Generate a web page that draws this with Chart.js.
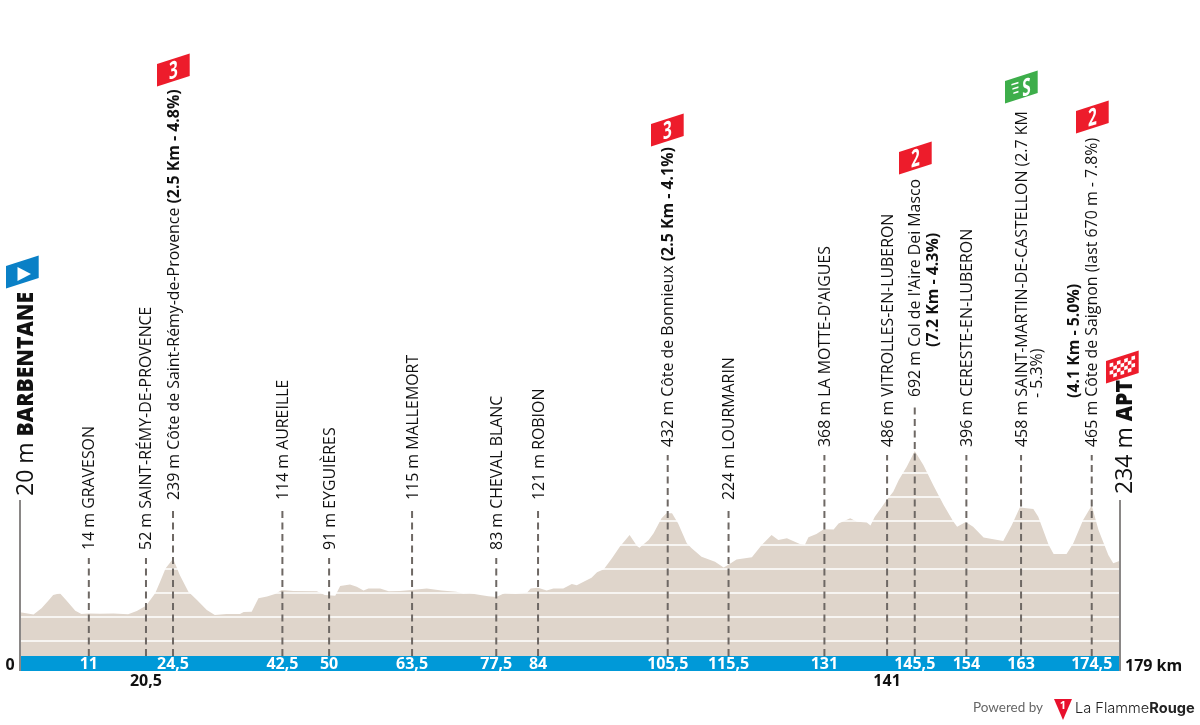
<!DOCTYPE html>
<html><head><meta charset="utf-8">
<style>html,body{margin:0;padding:0;background:#fff}canvas{display:block}</style>
<script src="https://cdn.jsdelivr.net/npm/chart.js@4/dist/chart.umd.min.js"></script>
</head><body><canvas id="c" width="1200" height="725"></canvas>
<script>
// Stage profile
const profileKm = [0,2.2,3.5,4.6,5.4,6.5,7.6,9,10,11.2,13,15.2,17.6,19,20.5,22,22.8,23.7,24.7,25,26,27.4,28.8,30.4,31.7,33.6,35.8,36.4,37.7,38.8,40.2,41.5,42.6,44.5,48.3,49.6,51.3,52.1,53.7,54.8,55.9,56.7,58.6,60,61.8,63.7,66.2,68.6,71,72.1,73.2,74.9,76.2,77.5,78.9,80.6,82.5,83.1,84.3,85.7,86.8,88.4,89.8,90.6,93,93.9,95,96.3,97.6,99.2,100.4,100.8,102.3,103.1,104.4,105.2,106.1,107.1,108.5,109.3,110.9,113.1,114.5,115.4,116.6,119.1,120.7,122.3,123.4,124.8,126.9,127.7,128.3,129.6,130.8,132.4,133.2,135.1,136.2,137.8,138.4,139.1,139.9,141.1,142.1,143,144.3,145.6,147,148.6,150.3,151.9,152.5,153.9,155.1,156.8,160,161.4,162.7,164.9,165.7,167.4,168.2,170.3,171.4,173,174.4,175.5,177.1,177.9,179];
const profileM = [20,10,36,68,92,99,68,26,12,15,14,15,11,25,47,99,147,203,235,237,175,105,71,29,8,12,12,21,22,78,85,96,112,108,107,92,89,129,135,126,110,119,119,107,108,113,119,110,105,97,99,92,86,83,100,96,101,119,122,110,119,119,137,132,164,186,199,244,293,342,296,289,321,349,411,432,432,390,307,286,251,230,206,220,240,249,300,342,321,328,304,300,332,346,366,365,390,411,397,394,381,418,446,490,522,571,626,692,633,550,467,397,376,396,376,331,317,383,456,450,418,300,262,262,307,404,465,362,258,224,234];
// Horizontal levels (m)
const gridLevels = [-100,0,100,200,300,400,500,600];
// Vertical waypoints
const markerKm   = [11.2,20.5,24.9,42.7,50.3,63.8,77.5,84.3,105.4,115.3,130.9,141.1,145.6,154,162.9,174.4];
const markerTop  = [246,246,454,454,246,454,246,454,675,454,675,675,883,675,675,675];
const kmLabels   = ["11","20,5","24,5","42,5","50","63,5","77,5","84","105,5","115,5","131","141","145,5","154","163","174,5"];
const waypointText = [
 [[["14 m GRAVESON",0]]],
 [[["52 m SAINT-RÉMY-DE-PROVENCE",0]]],
 [[["239 m Côte de Saint-Rémy-de-Provence ",0],["(2.5 Km - 4.8%)",1]]],
 [[["114 m AUREILLE",0]]],
 [[["91 m EYGUIÈRES",0]]],
 [[["115 m MALLEMORT",0]]],
 [[["83 m CHEVAL BLANC",0]]],
 [[["121 m ROBION",0]]],
 [[["432 m Côte de Bonnieux ",0],["(2.5 Km - 4.1%)",1]]],
 [[["224 m LOURMARIN",0]]],
 [[["368 m LA MOTTE-D'AIGUES",0]]],
 [[["486 m VITROLLES-EN-LUBERON",0]]],
 [[["692 m Col de l'Aire Dei Masco",0]],[["(7.2 Km - 4.3%)",1]]],
 [[["396 m CERESTE-EN-LUBERON",0]]],
 [[["458 m SAINT-MARTIN-DE-CASTELLON (2.7 KM",0]],[["- 5.3%)",0]]],
 [[["465 m Côte de Saignon (last 670 m - 7.8%)",0]],[["(4.1 Km - 5.0%)",1]]]
];
// Second-line placement: [dx from first line baseline, start y]
const secondLine = {12:[18,347],14:[15,398],15:[-18,398]};
const startName="BARBENTANE", startAlt="20 m", finishName="APT", finishAlt="234 m", totalKm="179 km";
const gates = [
 {kind:"start",x:6,y:266},{kind:"3",x:157,y:64},{kind:"3",x:651,y:124},{kind:"2",x:899,y:152},
 {kind:"S",x:1005,y:81},{kind:"2",x:1076,y:111},{kind:"finish",x:1106,y:361}
];
const BAND_TOP=-162.5, Y_MIN=-225, Y_MAX=2570.83, EDGE_TOP=487.5;
const F='"Open Sans"';
const LABEL_SIZE=15.9;

const overlay={id:'overlay',afterDraw(chart){
  const ctx=chart.ctx,xs=chart.scales.x,ys=chart.scales.y;
  const rot=(x,y,fn)=>{ctx.save();ctx.translate(x,y);ctx.rotate(-Math.PI/2);ctx.textAlign='left';ctx.textBaseline='alphabetic';fn();ctx.restore();};
  const segs=(line,size)=>{let p=0;line.forEach(([t,b])=>{ctx.font=(b?'700 ':'400 ')+size+'px '+F;ctx.fillStyle='#111';ctx.fillText(t,p,0);p+=ctx.measureText(t).width;});};
  markerKm.forEach((km,i)=>{
    const px=xs.getPixelForValue(km), top=ys.getPixelForValue(markerTop[i]);
    const base=px+5.5, sy=top-8;
    rot(base,sy,()=>segs(waypointText[i][0],LABEL_SIZE));
    if(waypointText[i][1]){const [dx,y2]=secondLine[i];rot(base+dx,y2,()=>segs(waypointText[i][1],LABEL_SIZE));}
    const low=(i===1||i===11);
    ctx.font='700 16px '+F;ctx.textAlign='center';ctx.textBaseline='middle';
    ctx.fillStyle=low?'#111':'#fff';
    ctx.fillText(kmLabels[i],px,low?681:664);
  });
  ctx.font='700 16px '+F;ctx.fillStyle='#111';ctx.textAlign='center';ctx.textBaseline='middle';
  ctx.fillText('0',10,665);
  ctx.textAlign='left';ctx.fillText(totalKm,1125,666);
  // start/finish titles
  const big=(x,y,alt,name)=>rot(x,y,()=>{ctx.fillStyle='#111';ctx.font='400 23px '+F;ctx.fillText(alt+' ',0,0);const w=ctx.measureText(alt+' ').width;ctx.font='800 23px '+F;ctx.translate(w,0);ctx.scale(0.92,1);ctx.fillText(name,0,0);});
  big(33,496,startAlt,startName);
  big(1132,494,finishAlt,finishName);
  // gates
  const W=32.7,H=22.5,R=10.5;
  gates.forEach(g=>{
    ctx.save();ctx.translate(g.x,g.y);
    ctx.beginPath();ctx.moveTo(0,0);ctx.lineTo(W,-R);ctx.lineTo(W,H-R);ctx.lineTo(0,H);ctx.closePath();
    ctx.fillStyle=g.kind==='start'?'#0A80C6':g.kind==='S'?'#3DAE4A':'#ED1C2B';ctx.fill();
    ctx.fillStyle='#fff';
    if(g.kind==='start'){ctx.beginPath();ctx.moveTo(11.5,1);ctx.lineTo(25,8);ctx.lineTo(11.5,15);ctx.closePath();ctx.fill();}
    else if(g.kind==='finish'){
      ctx.transform(1,-R/W,0,1,0,0);
      const cw=W/9,ch=H/6;
      for(let r=1;r<5;r++)for(let c=1;c<8;c++){if((r+c)%2===0)ctx.fillRect(c*cw,r*ch,cw,ch);}
    } else {
      ctx.transform(0.64,-0.2,0,1,0,0);
      ctx.font='700 24px '+F;ctx.textAlign='center';ctx.textBaseline='middle';
      const cx=(g.kind==='S'?21.5:W/2)/0.64;
      ctx.fillText(g.kind,cx,H/2+1.5+cx*0.2-W/2*0.2/0.64);
      if(g.kind==='S'){for(let k=0;k<3;k++){ctx.fillRect(10+k*1.5,5+k*4.5,11-k*1.5,1.6);}}
    }
    ctx.restore();
  });
  // credit
  ctx.textAlign='left';ctx.textBaseline='middle';
  ctx.font='400 13.5px Lato';ctx.fillStyle='#666';ctx.fillText('Powered by',973,708);
  ctx.beginPath();ctx.moveTo(1054,699);ctx.lineTo(1072,699);ctx.lineTo(1063,720);ctx.closePath();ctx.fillStyle='#E8112D';ctx.fill();
  ctx.fillStyle='#fff';ctx.font='700 11px '+F;ctx.textAlign='center';ctx.fillText('1',1063,706);
  ctx.textAlign='left';ctx.fillStyle='#222';ctx.font='300 14.6px Inter';ctx.fillText('La Flamme',1075,709);
  const w=ctx.measureText('La Flamme').width;ctx.font='700 14.6px Inter';ctx.fillText('Rouge',1075+w,709);
}};

const datasets=[
 {label:'Elevation',data:profileKm.map((k,i)=>({x:k,y:profileM[i]})),borderWidth:0,backgroundColor:'#DFD5CB',fill:'start',pointRadius:0,order:50,tension:0},
 {label:'Km band',data:[{x:0,y:BAND_TOP},{x:179,y:BAND_TOP}],borderWidth:0,backgroundColor:'#0099D8',fill:'start',pointRadius:0,order:40},
];
gridLevels.forEach(l=>datasets.push({label:'level '+l,data:[{x:0,y:l},{x:179,y:l}],borderColor:'#fff',borderWidth:1.6,pointRadius:0,fill:false,order:30}));
[0,179].forEach(k=>datasets.push({label:'edge '+k,data:[{x:k,y:Y_MIN},{x:k,y:EDGE_TOP}],borderColor:'#8A8786',borderWidth:2,pointRadius:0,fill:false,order:20,clip:false}));
markerKm.forEach((k,i)=>datasets.push({label:'wp '+kmLabels[i],data:[{x:k,y:BAND_TOP},{x:k,y:markerTop[i]}],borderColor:'#6E6864',borderWidth:2,borderDash:[7,4.5],pointRadius:0,fill:false,order:10}));

new Chart(document.getElementById('c'),{type:'line',data:{datasets},plugins:[overlay],options:{
  responsive:false,animation:false,devicePixelRatio:1,
  layout:{padding:{left:20,right:80,top:0,bottom:54}},
  plugins:{legend:{display:false},tooltip:{enabled:false},title:{display:false}},
  scales:{x:{type:'linear',min:0,max:179,display:false},y:{type:'linear',min:Y_MIN,max:Y_MAX,display:false}}
}});
</script></body></html>
